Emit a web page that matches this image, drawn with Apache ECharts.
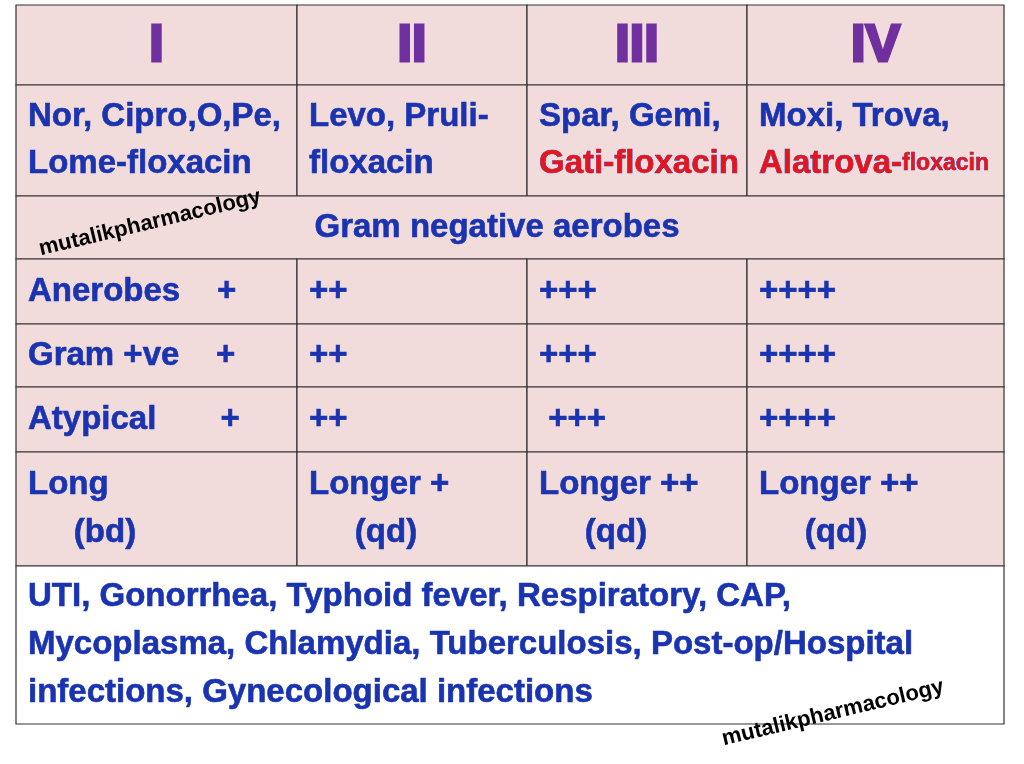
<!DOCTYPE html>
<html><head><meta charset="utf-8">
<script src="https://cdn.jsdelivr.net/npm/echarts@6/dist/echarts.min.js"></script>
<style>html,body{margin:0;padding:0;background:#fff}#c{width:1024px;height:764px}</style>
</head><body><div id="c"></div>
<script>
var headers = ['I', 'II', 'III', 'IV'];
var drugLine1 = ['Nor, Cipro,O,Pe,', 'Levo, Pruli-', 'Spar, Gemi,', 'Moxi, Trova,'];
var drugLine2 = ['Lome-floxacin', 'floxacin', '{r|Gati-floxacin}', '{r|Alatrova-}{rs|floxacin}'];
var commonRow = 'Gram negative aerobes';
var activityRows = [
  ['Anerobes    +', '++', '+++', '++++'],
  ['Gram +ve    +', '++', '+++', '++++'],
  ['Atypical       +', '++', ' +++', '++++']
];
var durationLine1 = ['Long', 'Longer +', 'Longer ++', 'Longer ++'];
var durationLine2 = ['     (bd)', '     (qd)', '     (qd)', '     (qd)'];
var usesLines = ['UTI, Gonorrhea, Typhoid fever, Respiratory, CAP,', 'Mycoplasma, Chlamydia, Tuberculosis, Post-op/Hospital', 'infections, Gynecological infections'];
var colEdges = [0, 281, 511, 731, 988];
var rowEdges = [0, 80, 191, 254, 319, 382, 447, 561, 719];

var cells = [];
headers.forEach(function(h, i){ cells.push([i, i+1, 0, h, 'head']); });
for (var i=0;i<4;i++) cells.push([i, i+1, 1, drugLine1[i] + '\n' + drugLine2[i], 'left']);
cells.push([0, 4, 2, commonRow, 'center']);
activityRows.forEach(function(r, ri){ r.forEach(function(t, i){ cells.push([i, i+1, 3+ri, t, 'left']); }); });
for (var i=0;i<4;i++) cells.push([i, i+1, 6, durationLine1[i] + '\n' + durationLine2[i], 'left']);
cells.push([0, 4, 7, usesLines.join('\n'), 'uses']);

var FF = 'Liberation Sans';
var chart = echarts.init(document.getElementById('c'));
chart.setOption({
  animation: false,
  grid: {left: 16, top: 5, width: 988, height: 719},
  xAxis: {type: 'value', min: 0, max: 988, show: false},
  yAxis: {type: 'value', min: 0, max: 719, inverse: true, show: false},
  series: [{
    type: 'custom',
    z: 2,
    data: cells.map(function(c, i){ return [i]; }),
    renderItem: function(params, api){
      var c = cells[api.value(0)];
      var p0 = api.coord([colEdges[c[0]], rowEdges[c[2]]]);
      var p1 = api.coord([colEdges[c[1]], rowEdges[c[2]+1]]);
      var w = p1[0]-p0[0], h = p1[1]-p0[1];
      var kind = c[4];
      var head = kind === 'head';
      var txt = {
        type: 'text',
        style: {
          text: c[3],
          x: head || kind === 'center' ? p0[0] + w/2 - (kind==='center'?13:0) : p0[0] + 12,
          y: p0[1] + h/2 + (head?2:0),
          align: head || kind === 'center' ? 'center' : 'left',
          verticalAlign: 'middle',
          fill: head ? '#7030a0' : '#1a33b0',
          stroke: head ? '#7030a0' : '#1a33b0',
          lineWidth: head ? 3 : 0.6,
          fontFamily: FF, fontWeight: 'bold', fontSize: head ? 52 : 33,
          lineHeight: 48,
          rich: {
            r: {fill: '#e8141c', fontFamily: FF, fontWeight: 'bold', fontSize: 33, lineHeight: 48},
            rs: {fill: '#e8141c', fontFamily: FF, fontWeight: 'bold', fontSize: 23, lineHeight: 48}
          }
        }
      };
      if (c[2] === 1) txt.style.lineHeight = 47;
      return {type: 'group', children: [
        {type: 'rect', shape: {x: p0[0], y: p0[1], width: w, height: h},
         style: {fill: kind === 'uses' ? '#ffffff' : '#f2dcdb', stroke: '#333333', lineWidth: 1.2}},
        txt
      ]};
    }
  }],
  graphic: [
    {type: 'text', x: 150, y: 223, rotation: 0.235, z: 100,
     style: {text: 'mutalikpharmacology', fill: '#000', fontFamily: FF, fontWeight: 'bold', fontSize: 22, align: 'center', verticalAlign: 'middle'}},
    {type: 'text', x: 833, y: 713, rotation: 0.235, z: 100,
     style: {text: 'mutalikpharmacology', fill: '#000', fontFamily: FF, fontWeight: 'bold', fontSize: 22, align: 'center', verticalAlign: 'middle'}}
  ]
});
</script></body></html>
